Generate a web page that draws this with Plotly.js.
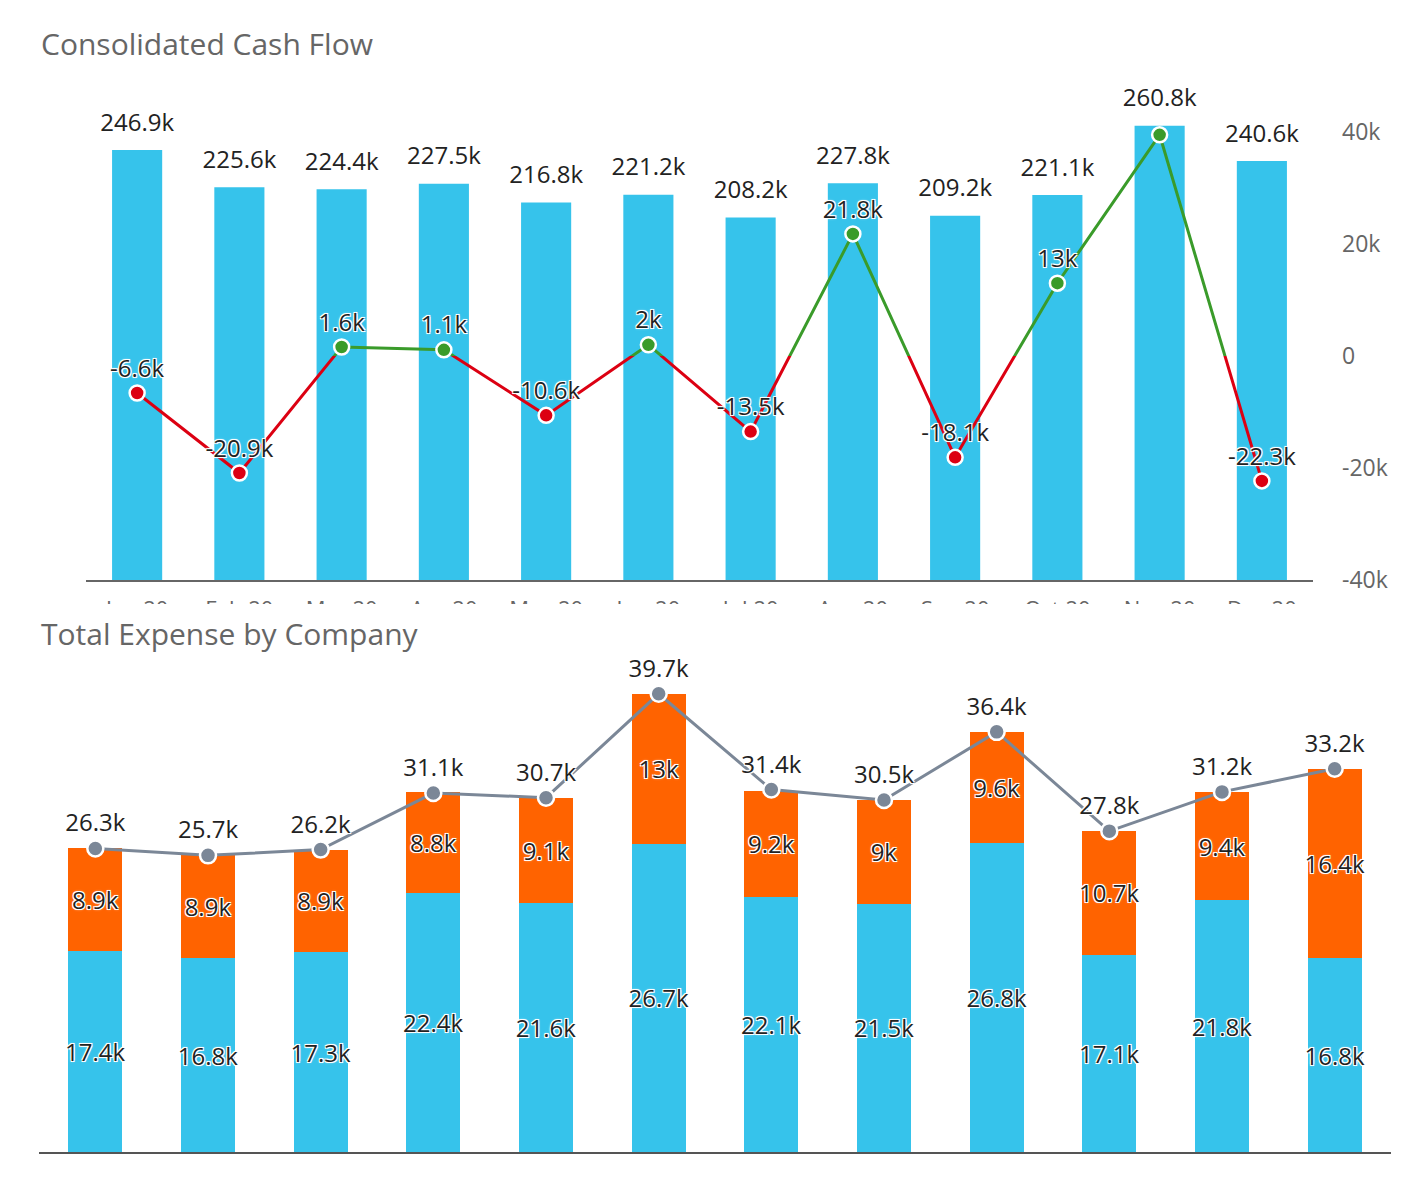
<!DOCTYPE html>
<html>
<head>
<meta charset="utf-8">
<script src="https://cdn.plot.ly/plotly-3.0.1.min.js"></script>
<style>
  html, body { margin: 0; padding: 0; background: #fff; }
  #cashWrap { position: absolute; left: 0; top: 0; width: 1419px; height: 604px; overflow: hidden; }
  #cash { width: 1419px; height: 640px; }
  #expense { position: absolute; left: 0; top: 604px; width: 1419px; height: 596px; }
</style>
</head>
<body>
<div id="cashWrap"><div id="cash"></div></div>
<div id="expense"></div>
<script>
// ---- Consolidated cash flow ----
const months = ['Jan 20', 'Feb 20', 'Mar 20', 'Apr 20', 'May 20', 'Jun 20',
                'Jul 20', 'Aug 20', 'Sep 20', 'Oct 20', 'Nov 20', 'Dec 20'];
const cashBalance = [246900, 225600, 224400, 227500, 216800, 221200,
                     208200, 227800, 209200, 221100, 260800, 240600];
const netCashFlow = [-6600, -20900, 1600, 1100, -10600, 2000,
                     -13500, 21800, -18100, 13000, 39500, -22300];
const netLabelShown = [true, true, true, true, true, true,
                       true, true, true, true, false, true];
const flowTicks = [-40000, -20000, 0, 20000, 40000];
const flowTickText = ['-40k', '-20k', '0', '20k', '40k'];

// ---- Total expense by company ----
const companyA = [17400, 16800, 17300, 22400, 21600, 26700, 22100, 21500, 26800, 17100, 21800, 16800];
const companyB = [8900, 8900, 8900, 8800, 9100, 13000, 9200, 9000, 9600, 10700, 9400, 16400];
const expenseTotal = [26300, 25700, 26200, 31100, 30700, 39700, 31400, 30500, 36400, 27800, 31200, 33200];

const BLUE = '#36c3eb';
const ORANGE = '#ff6300';
const GREEN = '#3a9b2a';
const RED = '#dc0012';
const GREY_LINE = '#7b8797';
const FONT = 'Open Sans, Noto Sans, sans-serif';
const LABEL_SIZE = 24;
const HALO = '1px 1px 0 #fff, -1px -1px 0 #fff, 1px -1px 0 #fff, -1px 1px 0 #fff, 0 0 3px #fff';

function fmtK(v) {
  const s = (v / 1000).toFixed(1).replace(/\.0$/, '');
  return s + 'k';
}

const idx = months.map((_, i) => i);

// Right-axis range; the zero line splits the net-flow line into a green (above) and red (below) part.
const flowRange = [-40000, 47500];
const zeroFrac = (0 - flowRange[0]) / (flowRange[1] - flowRange[0]);

const cashTraces = [
  {
    type: 'bar', x: idx, y: cashBalance, xaxis: 'x', yaxis: 'y',
    marker: { color: BLUE }, hoverinfo: 'skip', showlegend: false
  },
  // balance labels, sitting above each bar
  {
    type: 'scatter', mode: 'markers+text', x: idx, y: cashBalance, xaxis: 'x', yaxis: 'y',
    marker: { size: 20, color: 'rgba(0,0,0,0)' },
    text: cashBalance.map(fmtK), textposition: 'top center', cliponaxis: false,
    textfont: { family: FONT, size: LABEL_SIZE, color: '#222' },
    hoverinfo: 'skip', showlegend: false
  },
  // positive part of the net-flow line, clipped to the area above zero
  {
    type: 'scatter', mode: 'lines', x: idx, y: netCashFlow, xaxis: 'x2', yaxis: 'y3',
    line: { color: GREEN, width: 3 }, hoverinfo: 'skip', showlegend: false
  },
  // negative part, clipped to the area below zero
  {
    type: 'scatter', mode: 'lines', x: idx, y: netCashFlow, xaxis: 'x2', yaxis: 'y4',
    line: { color: RED, width: 3 }, hoverinfo: 'skip', showlegend: false
  },
  {
    type: 'scatter', mode: 'markers+text', x: idx, y: netCashFlow, xaxis: 'x3', yaxis: 'y5',
    marker: { size: 15, color: netCashFlow.map(v => v >= 0 ? GREEN : RED), line: { color: '#fff', width: 2.5 } },
    text: netCashFlow.map((v, i) => netLabelShown[i] ? fmtK(v) : ''),
    textposition: 'top center', cliponaxis: false,
    textfont: { family: FONT, size: LABEL_SIZE, color: '#222', shadow: HALO },
    hoverinfo: 'skip', showlegend: false
  },
  // keeps the right axis (y2) drawn
  {
    type: 'scatter', mode: 'none', x: [idx[0]], y: [0], xaxis: 'x', yaxis: 'y2',
    hoverinfo: 'skip', showlegend: false
  }
];

const xRange = [-0.5, 11.5];
const cashLayout = {
  width: 1419, height: 640,
  margin: { l: 86, r: 106, t: 90, b: 60 },
  paper_bgcolor: '#fff', plot_bgcolor: 'rgba(0,0,0,0)',
  font: { family: FONT },
  bargap: 0.51,
  showlegend: false,
  title: {
    text: 'Consolidated Cash Flow', xref: 'container', yref: 'container',
    x: 41 / 1419, xanchor: 'left', y: 1 - 44 / 640, yanchor: 'middle',
    font: { family: FONT, size: 30, color: '#666' }
  },
  xaxis: {
    domain: [0, 1], range: xRange, tickvals: idx, ticktext: months, ticks: '',
    ticklabelstandoff: 9,
    showline: true, linecolor: '#666', linewidth: 2, showgrid: false, zeroline: false,
    tickfont: { family: FONT, size: 22, color: '#666' }, fixedrange: true
  },
  yaxis: { range: [0, 281400], visible: false, showgrid: false, zeroline: false, fixedrange: true },
  yaxis2: {
    overlaying: 'y', side: 'right', anchor: 'x', range: flowRange,
    tickvals: flowTicks, ticktext: flowTickText, ticks: '', ticklabelstandoff: 28,
    showgrid: false, zeroline: false, showline: false,
    tickfont: { family: FONT, size: 23, color: '#666' }, fixedrange: true
  },
  xaxis2: { domain: [0, 1], range: xRange, anchor: 'y3', visible: false, fixedrange: true },
  yaxis3: { domain: [zeroFrac, 1], range: [0, flowRange[1]], anchor: 'x2', visible: false, fixedrange: true },
  yaxis4: { domain: [0, zeroFrac], range: [flowRange[0], 0], anchor: 'x2', visible: false, fixedrange: true },
  xaxis3: { domain: [0, 1], range: xRange, anchor: 'y5', visible: false, fixedrange: true },
  yaxis5: { domain: [0, 1], range: flowRange, anchor: 'x3', visible: false, fixedrange: true }
};

Plotly.newPlot('cash', cashTraces, cashLayout, { staticPlot: true, displayModeBar: false });

// ---- expense chart ----
const segFont = { family: FONT, size: LABEL_SIZE, color: '#222', shadow: HALO };
const expenseTraces = [
  {
    type: 'bar', name: 'Company A', x: idx, y: companyA, marker: { color: BLUE },
    text: companyA.map(fmtK), textposition: 'inside', insidetextanchor: 'middle',
    constraintext: 'none', textangle: 0, textfont: segFont, insidetextfont: segFont,
    hoverinfo: 'skip'
  },
  {
    type: 'bar', name: 'Company B', x: idx, y: companyB, marker: { color: ORANGE },
    text: companyB.map(fmtK), textposition: 'inside', insidetextanchor: 'middle',
    constraintext: 'none', textangle: 0, textfont: segFont, insidetextfont: segFont,
    hoverinfo: 'skip'
  },
  {
    type: 'scatter', mode: 'lines+markers+text', name: 'Total', x: idx, y: expenseTotal,
    line: { color: GREY_LINE, width: 3 },
    marker: { size: 16, color: GREY_LINE, line: { color: '#fff', width: 2.5 } },
    text: expenseTotal.map(fmtK), textposition: 'top center', cliponaxis: false,
    textfont: { family: FONT, size: LABEL_SIZE, color: '#222', shadow: HALO },
    hoverinfo: 'skip'
  }
];

const expenseLayout = {
  width: 1419, height: 596,
  margin: { l: 39, r: 28, t: 45, b: 48 },
  paper_bgcolor: '#fff', plot_bgcolor: 'rgba(0,0,0,0)',
  font: { family: FONT },
  barmode: 'stack', bargap: 0.52,
  showlegend: false,
  title: {
    text: 'Total Expense by Company', xref: 'container', yref: 'container',
    x: 41 / 1419, xanchor: 'left', y: 1 - 30 / 596, yanchor: 'middle',
    font: { family: FONT, size: 30, color: '#666' }
  },
  xaxis: {
    range: xRange, showticklabels: false, ticks: '',
    showline: true, linecolor: '#555', linewidth: 2, showgrid: false, zeroline: false, fixedrange: true
  },
  yaxis: { range: [0, 43580], visible: false, showgrid: false, zeroline: false, fixedrange: true }
};

Plotly.newPlot('expense', expenseTraces, expenseLayout, { staticPlot: true, displayModeBar: false });
</script>
</body>
</html>
